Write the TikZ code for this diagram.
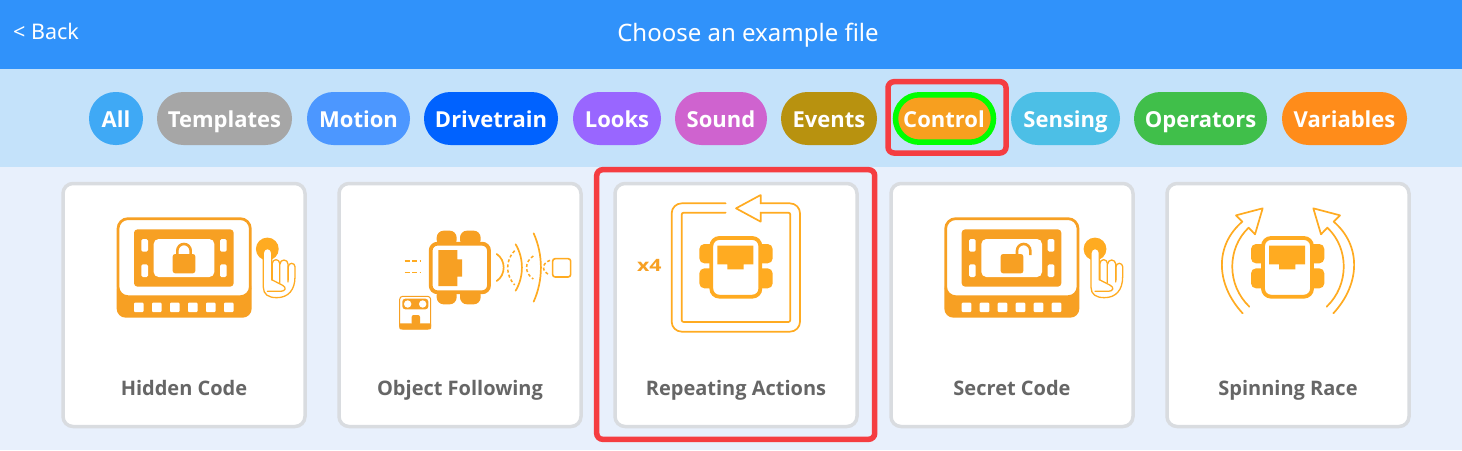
\documentclass[tikz,border=0pt]{standalone}
\usepackage{fontspec}
\setmainfont{Noto Sans}[BoldFont={Open Sans Bold}]
\definecolor{hdr}{HTML}{3092FA}
\definecolor{band}{HTML}{C4E2FA}
\definecolor{bodybg}{HTML}{E8F0FC}
\definecolor{cardline}{HTML}{D9DCE0}
\definecolor{redbox}{HTML}{F53D41}
\definecolor{icon}{HTML}{F7A023}
\definecolor{iconb}{HTML}{FFAB21}
\definecolor{lbl}{HTML}{666666}
\definecolor{cAll}{HTML}{3FA9F5}
\definecolor{cTemplates}{HTML}{A6A6A6}
\definecolor{cMotion}{HTML}{4C97FF}
\definecolor{cDrive}{HTML}{0062FF}
\definecolor{cLooks}{HTML}{9966FF}
\definecolor{cSound}{HTML}{CF63CF}
\definecolor{cEvents}{HTML}{B8920F}
\definecolor{cControl}{HTML}{F79F1F}
\definecolor{cSensing}{HTML}{4CBFE6}
\definecolor{cOps}{HTML}{40BF4A}
\definecolor{cVars}{HTML}{FF8C1A}
\tikzset{
  cardbox/.style={draw=cardline,line width=3.5pt,fill=white,rounded corners=10pt},
  redframe/.style={draw=redbox,line width=5.5pt,rounded corners=6pt},
  tabtext/.style={text=white,font=\bfseries\fontsize{22}{24}\selectfont,inner sep=0pt,anchor=base},
  cardtext/.style={text=lbl,font=\bfseries\fontsize{20}{22}\selectfont,inner sep=0pt,anchor=base},
  ln/.style={draw=iconb,line width=1.7pt,line cap=round,line join=round},
  dashln/.style={draw=iconb,line width=1.5pt,dash pattern=on 3pt off 2.2pt},
  zoomed/.style={x=.33333pt,y=-.33333pt}
}
\newcommand{\pill}[3]{\fill[#3,rounded corners=26.4pt] (#1,92) rectangle (#2,145);}
\newcommand{\filmicon}{%
  \fill[icon,rounded corners=9pt] (170,300) rectangle (575,413);
  \draw[icon,line width=2.7pt,fill=white,rounded corners=10pt] (174,116) rectangle (571,350);
  \fill[icon,rounded corners=3.5pt] (222,148) rectangle (521,320);
  \fill[white,rounded corners=5pt] (281,177) rectangle (463,291);
  \foreach \xx in {244,480}{
    \fill[white,rounded corners=1.5pt] (\xx,177) rectangle (\xx+20,215);
    \fill[white,rounded corners=1.5pt] (\xx,253) rectangle (\xx+20,291);}
  \foreach \xx in {222,276,330,384,438,492}
    \fill[white,rounded corners=1pt] (\xx,368) rectangle (\xx+29,396);
  % hand
  \fill[iconb] (622,207) circle (11.4pt);
  \fill[white] (610,218) arc[start angle=180,end angle=360,x radius=12.5,y radius=12.5] -- (635,250) -- (705,250) -- (705,300) -- (650,353) -- (610,325) -- cycle;
  \draw[ln,line width=1.3pt] (635,300) -- (635,218) arc[start angle=0,end angle=-180,x radius=12.5,y radius=12.5] -- (610,322)
     .. controls (610,343) and (625,353) .. (650,353) .. controls (685,353) and (705,330) .. (705,290) -- (705,260)
     arc[start angle=0,end angle=-180,x radius=10,y radius=10] -- (685,300);
  \draw[ln,line width=1.3pt] (637,300) -- (637,250) arc[start angle=180,end angle=360,x radius=11,y radius=11] -- (659,308);
  \draw[ln,line width=1.3pt] (660,252) arc[start angle=180,end angle=360,x radius=12,y radius=12] -- (684,306);
  \draw[ln,line width=1.3pt] (622,334) -- (662,334) .. controls (677,334) and (680,322) .. (668,316) -- (637,300);
}
\newcommand{\roboticon}[1]{%
  \begin{scope}[xshift=#1*.33333pt]
  \foreach \yy/\yb in {192/250,265/325}{
    \fill[iconb,rounded corners=5pt] (268,\yy) rectangle (320,\yb);
    \fill[iconb,rounded corners=5pt] (436,\yy) rectangle (488,\yb);}
  \draw[iconb,line width=3.8pt,fill=white,rounded corners=8pt] (304,174) rectangle (451,350);
  \fill[iconb] (322,197) -- (430,197) -- (430,253) -- (401,253) -- (401,268) -- (352,268) -- (352,253) -- (322,253) -- cycle;
  \end{scope}
}
\begin{document}
\begin{tikzpicture}[x=1pt,y=-1pt]
\useasboundingbox (0,0) rectangle (1462,450);
\fill[bodybg] (0,167) rectangle (1462,450);
\fill[band] (0,69) rectangle (1462,167);
\fill[hdr] (0,0) rectangle (1462,69);
\node[text=white,font=\fontsize{21.5}{24}\selectfont,inner sep=0pt,anchor=base west] (back) at (13,39) {< Back};
\node[text=white,font=\fontsize{24}{28}\selectfont,inner sep=0pt,anchor=base] (title) at (748,41) {Choose an example file};
\pill{89}{143}{cAll}
\pill{157}{292}{cTemplates}
\pill{307}{410}{cMotion}
\pill{424}{558}{cDrive}
\pill{573}{661}{cLooks}
\pill{675}{767}{cSound}
\pill{781}{877}{cEvents}
\draw[draw=green,fill=cControl,line width=5.5pt,rounded corners=23.7pt] (895.5,94.8) rectangle (993.5,142.2);
\pill{1011}{1120}{cSensing}
\pill{1134}{1267}{cOps}
\pill{1282}{1407}{cVars}
\node[tabtext] (tAll) at (116,127) {All};
\node[tabtext] (tTemplates) at (224.5,127) {Templates};
\node[tabtext] (tMotion) at (358.5,127) {Motion};
\node[tabtext] (tDrive) at (491,127) {Drivetrain};
\node[tabtext] (tLooks) at (617,127) {Looks};
\node[tabtext] (tSound) at (721,127) {Sound};
\node[tabtext] (tEvents) at (829,127) {Events};
\node[tabtext] (tControl) at (944,127) {Control};
\node[tabtext] (tSensing) at (1065.5,127) {Sensing};
\node[tabtext] (tOps) at (1200.5,127) {Operators};
\node[tabtext] (tVars) at (1344.5,127) {Variables};
\draw[redframe] (888,81.7) rectangle (1006,153);
\foreach \cx in {62,338,614,890,1166}
  \draw[cardbox] (\cx+1,183.5) rectangle (\cx+243,426.5);
\node[cardtext] (c1) at (184,395) {Hidden Code};
\node[cardtext] (c2) at (460,395) {Object Following};
\node[cardtext] (c3) at (736,395) {Repeating Actions};
\node[cardtext] (c4) at (1012,395) {Secret Code};
\node[cardtext] (c5) at (1288,395) {Spinning Race};
\draw[redframe] (596.7,169.7) rectangle (874.7,439.3);
\begin{scope}[shift={(60,180)},zoomed]
  \filmicon
  \fill[icon,rounded corners=2.5pt] (338,222) rectangle (406,280);
  \draw[icon,line width=2.6pt] (352,225) -- (352,212) arc[start angle=180,end angle=360,x radius=20,y radius=20] -- (392,225);
\end{scope}
\begin{scope}[shift={(887.67,180)},zoomed]
  \filmicon
  \fill[icon,rounded corners=2.5pt] (339,222) rectangle (407,280);
  \draw[icon,line width=2.6pt] (388,225) -- (388,212) arc[start angle=180,end angle=360,x radius=20,y radius=20] -- (428,225);
\end{scope}
\begin{scope}[shift={(340,180)},zoomed]
  \foreach \xa/\xb in {290/350,360/422}{
    \fill[icon,rounded corners=7pt] (\xa,152) rectangle (\xb,200);
    \fill[icon,rounded corners=7pt] (\xa,325) rectangle (\xb,373);}
  \draw[icon,line width=3.8pt,fill=white,rounded corners=7pt] (272,191) rectangle (447,337);
  \fill[icon] (295,210) -- (352,210) -- (352,238) -- (366,238) -- (366,290) -- (352,290) -- (352,318) -- (295,318) -- cycle;
  \draw[iconb,line width=1.2pt,dash pattern=on 5pt off 2.5pt] (194,243) -- (240,243);
  \draw[iconb,line width=1.2pt,dash pattern=on 5pt off 2.5pt] (194,277) -- (240,277);
  \draw[ln] (470,222) .. controls (498,240) and (498,285) .. (470,303);
  \draw[ln] (527,193) .. controls (552,235) and (552,290) .. (527,332);
  \draw[ln] (581,160) .. controls (610,225) and (610,300) .. (581,365);
  \draw[dashln] (524,212) .. controls (496,240) and (496,285) .. (524,315);
  \draw[dashln] (580,228) .. controls (553,245) and (553,280) .. (580,297);
  \draw[dashln] (630,241) .. controls (604,250) and (604,275) .. (630,285);
  \draw[iconb,line width=1.6pt,rounded corners=2.5pt] (638,236) rectangle (692,291);
  \draw[icon,line width=1pt,fill=white,rounded corners=3pt] (179,349) rectangle (272,447);
  \fill[icon,rounded corners=1pt] (178,430) rectangle (273,448);
  \fill[icon,rounded corners=2pt] (215,405) rectangle (240,435);
  \fill[icon,rounded corners=3pt] (187,356) rectangle (265,388);
  \fill[white] (203,372) circle (3.7pt);
  \fill[white] (248,372) circle (3.7pt);
\end{scope}
\begin{scope}[shift={(610,180)},zoomed]
  \roboticon{0}
  \draw[ln,rounded corners=10pt] (347,70) -- (185,70) -- (185,455) -- (570,455) -- (570,70) -- (452,70);
  \draw[ln] (452,70) -- (452,45) -- (378,85) -- (452,125) -- (452,98);
  \draw[ln,rounded corners=2pt] (452,98) -- (541,98) -- (541,426) -- (215,426) -- (215,98) -- (347,98);
  \node[text=icon,font=\bfseries\fontsize{17}{20}\selectfont,inner sep=0pt] (times) at (118,255) {\scalebox{1.25}[1]{x4}};
\end{scope}
\begin{scope}[shift={(1170,180)},zoomed]
  \roboticon{-25}
  \draw[ln] (218,400) .. controls (135,310) and (135,195) .. (217,125) -- (198,106) -- (278,85) -- (255,163) -- (236,143) .. controls (170,205) and (170,315) .. (238,380);
  \draw[ln] (490,400) .. controls (573,310) and (573,195) .. (491,125) -- (510,106) -- (430,85) -- (453,163) -- (472,143) .. controls (538,205) and (538,315) .. (470,380);
\end{scope}
\end{tikzpicture}
\end{document}
